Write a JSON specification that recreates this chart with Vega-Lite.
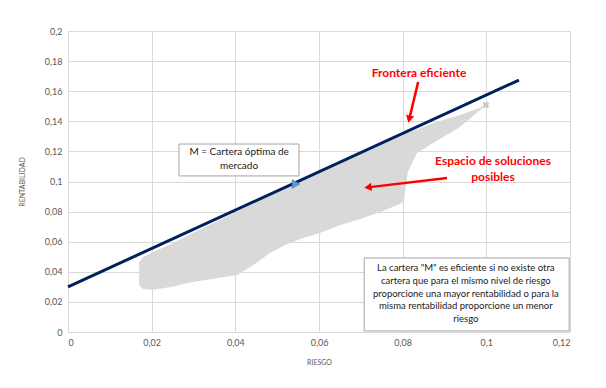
{
  "$schema": "https://vega.github.io/schema/vega-lite/v6.json",
  "width": 502,
  "height": 301,
  "autosize": {"type": "none"},
  "padding": {"left": 68, "top": 31, "right": 36, "bottom": 56},
  "background": "white",
  "config": {
    "locale": {"number": {"decimal": ",", "thousands": ".", "grouping": [3], "currency": ["", " €"]}},
    "view": {"stroke": null},
    "font": "Lato",
    "axis": {
      "domain": false,
      "ticks": false,
      "gridColor": "#d9d9d9",
      "gridWidth": 1,
      "labelColor": "#595959",
      "labelFont": "Lato",
      "labelFontSize": 9,
      "titleColor": "#595959",
      "titleFont": "Lato",
      "titleFontSize": 7,
      "titleFontWeight": "normal"
    }
  },
  "encoding": {
    "x": {
      "field": "x", "type": "quantitative",
      "scale": {"domain": [0, 0.12], "nice": false, "zero": false},
      "axis": {"title": "RIESGO", "values": [0, 0.02, 0.04, 0.06, 0.08, 0.1, 0.12], "format": ".3~g", "labelPadding": 6, "titleY": 30, "titleBaseline": "middle"}
    },
    "y": {
      "field": "y", "type": "quantitative",
      "scale": {"domain": [0, 0.2], "nice": false, "zero": false},
      "axis": {"title": "RENTABILIDAD", "values": [0, 0.02, 0.04, 0.06, 0.08, 0.1, 0.12, 0.14, 0.16, 0.18, 0.2], "format": ".3~g", "labelPadding": 6, "titleX": -46, "titleBaseline": "middle"}
    }
  },
  "layer": [
    {
      "data": {"values": [
        {"x": 0.0170, "y": 0.0310, "y2": 0.0465},
        {"x": 0.0180, "y": 0.0285, "y2": 0.0500},
        {"x": 0.0203, "y": 0.0280, "y2": 0.0530},
        {"x": 0.0250, "y": 0.0300, "y2": 0.0590},
        {"x": 0.0285, "y": 0.0326, "y2": 0.0640},
        {"x": 0.0340, "y": 0.0350, "y2": 0.0715},
        {"x": 0.0404, "y": 0.0379, "y2": 0.0800},
        {"x": 0.0440, "y": 0.0440, "y2": 0.0850},
        {"x": 0.0483, "y": 0.0525, "y2": 0.0905},
        {"x": 0.0520, "y": 0.0580, "y2": 0.0955},
        {"x": 0.0562, "y": 0.0625, "y2": 0.1010},
        {"x": 0.0602, "y": 0.0658, "y2": 0.1060},
        {"x": 0.0650, "y": 0.0710, "y2": 0.1120},
        {"x": 0.0700, "y": 0.0753, "y2": 0.1185},
        {"x": 0.0750, "y": 0.0800, "y2": 0.1245},
        {"x": 0.0793, "y": 0.0850, "y2": 0.1300},
        {"x": 0.0803, "y": 0.0870, "y2": 0.1315},
        {"x": 0.0812, "y": 0.1060, "y2": 0.1325},
        {"x": 0.0834, "y": 0.1189, "y2": 0.1345},
        {"x": 0.0873, "y": 0.1256, "y2": 0.1389},
        {"x": 0.0937, "y": 0.1362, "y2": 0.1442},
        {"x": 0.0985, "y": 0.1475, "y2": 0.1490},
        {"x": 0.0999, "y": 0.1505, "y2": 0.1510}
      ]},
      "mark": {"type": "area", "color": "#d9d9d9", "opacity": 1},
      "encoding": {"y2": {"field": "y2"}}
    },
    {
      "data": {"values": [{"x": 0.0999, "y": 0.1508}]},
      "mark": {"type": "point", "shape": "cross", "angle": 45, "size": 45, "filled": true, "color": "#c8c8c8", "opacity": 1}
    },
    {
      "data": {"values": [{"x": 0, "y": 0.03}, {"x": 0.1078, "y": 0.1674}]},
      "mark": {"type": "line", "color": "#002060", "strokeWidth": 3}
    },
    {
      "data": {"values": [{"x": 0.02654, "y": 0.1249, "x2": 0.05523, "y2": 0.1037}]},
      "mark": {"type": "rect", "fill": "white", "stroke": "#a6a6a6", "strokeWidth": 1},
      "encoding": {"x2": {"field": "x2"}, "y2": {"field": "y2"}}
    },
    {
      "data": {"values": [{"x": 0.0409, "y": 0.1196, "t": "M = Cartera óptima de\nmercado"}]},
      "mark": {"type": "text", "align": "center", "baseline": "middle", "lineBreak": "\n", "lineHeight": 14, "fontSize": 10, "color": "#1a1a1a", "font": "Lato"},
      "encoding": {"text": {"field": "t"}}
    },
    {
      "data": {"values": [{"x": 0.0545, "y": 0.0983}]},
      "mark": {"type": "point", "shape": "triangle-right", "size": 80, "filled": true, "color": "#5b9bd5", "stroke": "#41719c", "strokeWidth": 0.5, "opacity": 1}
    },
    {
      "data": {"values": [{"x": 0.0837, "y": 0.1661, "x2": 0.08157, "y2": 0.14146}]},
      "mark": {"type": "rule", "color": "#ff0000", "strokeWidth": 2.5},
      "encoding": {"x2": {"field": "x2"}, "y2": {"field": "y2"}}
    },
    {
      "data": {"values": [{"x": 0.08157, "y": 0.14146}]},
      "mark": {"type": "point", "shape": "triangle-up", "angle": 193, "size": 70, "filled": true, "color": "#ff0000", "opacity": 1}
    },
    {
      "data": {"values": [{"x": 0.0839, "y": 0.1721, "t": "Frontera eficiente"}]},
      "mark": {"type": "text", "align": "center", "baseline": "middle", "fontSize": 12, "fontWeight": "bold", "color": "#ff0000", "font": "Lato"},
      "encoding": {"text": {"field": "t"}}
    },
    {
      "data": {"values": [{"x": 0.0906, "y": 0.1023, "x2": 0.0717, "y2": 0.0961}]},
      "mark": {"type": "rule", "color": "#ff0000", "strokeWidth": 2.5},
      "encoding": {"x2": {"field": "x2"}, "y2": {"field": "y2"}}
    },
    {
      "data": {"values": [{"x": 0.0717, "y": 0.0961}]},
      "mark": {"type": "point", "shape": "triangle-up", "angle": 263, "size": 70, "filled": true, "color": "#ff0000", "opacity": 1}
    },
    {
      "data": {"values": [{"x": 0.1016, "y": 0.1136, "t": "Espacio de soluciones\nposibles"}]},
      "mark": {"type": "text", "align": "center", "baseline": "middle", "lineBreak": "\n", "lineHeight": 16, "fontSize": 12, "fontWeight": "bold", "color": "#ff0000", "font": "Lato"},
      "encoding": {"text": {"field": "t"}}
    },
    {
      "data": {"values": [{"x": 0.0708, "y": 0.0492, "x2": 0.1198, "y2": 0.0007}]},
      "mark": {"type": "rect", "fill": "white", "stroke": "#a6a6a6", "strokeWidth": 1},
      "encoding": {"x2": {"field": "x2"}, "y2": {"field": "y2"}}
    },
    {
      "data": {"values": [{"x": 0.0951, "y": 0.0425, "t": "La cartera \"M\" es eficiente si no existe otra\ncartera que para el mismo nivel de riesgo\nproporcione una mayor rentabilidad o para la\nmisma rentabilidad proporcione un menor\nriesgo"}]},
      "mark": {"type": "text", "align": "center", "baseline": "middle", "lineBreak": "\n", "lineHeight": 12.8, "fontSize": 9.5, "color": "#1a1a1a", "font": "Lato"},
      "encoding": {"text": {"field": "t"}}
    }
  ]
}
